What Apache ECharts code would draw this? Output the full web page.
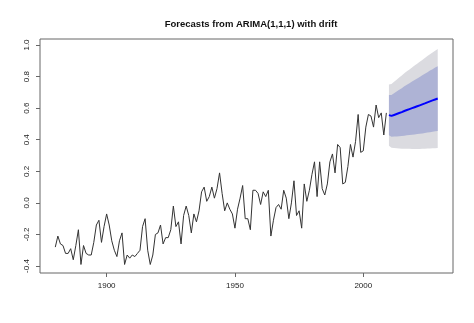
<!DOCTYPE html>
<html>
<head>
<meta charset="utf-8">
<script src="https://cdn.jsdelivr.net/npm/echarts@6/dist/echarts.min.js"></script>
<style>
html,body{margin:0;padding:0;background:#fff;}
#chart{width:474px;height:323px;}
</style>
</head>
<body>
<div id="chart"></div>
<script>
// Observed series (annual, 1880-2009)
var startYear = 1880;
var observed = [
-0.28,-0.21,-0.26,-0.27,-0.32,-0.32,-0.29,-0.36,-0.27,-0.17,
-0.39,-0.27,-0.32,-0.33,-0.33,-0.25,-0.14,-0.11,-0.25,-0.15,
-0.07,-0.14,-0.24,-0.30,-0.34,-0.24,-0.19,-0.39,-0.33,-0.35,
-0.33,-0.34,-0.32,-0.30,-0.15,-0.10,-0.30,-0.39,-0.33,-0.20,
-0.19,-0.14,-0.26,-0.22,-0.22,-0.17,-0.02,-0.15,-0.12,-0.26,
-0.08,-0.02,-0.08,-0.19,-0.07,-0.12,-0.05,0.07,0.10,0.01,
0.04,0.10,0.03,0.09,0.19,0.06,-0.05,0.00,-0.04,-0.07,
-0.16,-0.04,0.03,0.11,-0.10,-0.10,-0.17,0.08,0.08,0.06,
-0.01,0.07,0.04,0.08,-0.21,-0.11,-0.03,-0.01,-0.04,0.08,
0.03,-0.10,0.00,0.14,-0.08,-0.05,-0.16,0.12,0.01,0.08,
0.18,0.26,0.04,0.26,0.09,0.05,0.12,0.26,0.31,0.19,
0.37,0.35,0.12,0.13,0.23,0.37,0.29,0.39,0.56,0.32,
0.33,0.48,0.56,0.55,0.48,0.62,0.54,0.57,0.43,0.57
];
// Forecast 2010-2029
var fcYears = [2010,2011,2012,2013,2014,2015,2016,2017,2018,2019,2020,2021,2022,2023,2024,2025,2026,2027,2028,2029];
var fcMean = [0.556,0.551,0.557,0.563,0.569,0.575,0.582,0.588,0.594,0.600,0.606,0.612,0.618,0.624,0.630,0.637,0.643,0.649,0.655,0.661];
var lo80 = [0.429,0.419,0.420,0.421,0.422,0.424,0.426,0.428,0.430,0.431,0.433,0.436,0.438,0.440,0.442,0.446,0.448,0.451,0.453,0.456];
var hi80 = [0.683,0.683,0.694,0.705,0.716,0.726,0.738,0.748,0.758,0.769,0.779,0.788,0.798,0.808,0.818,0.828,0.838,0.847,0.857,0.866];
var lo95 = [0.362,0.349,0.347,0.346,0.344,0.343,0.343,0.343,0.343,0.342,0.342,0.342,0.342,0.343,0.343,0.344,0.345,0.346,0.346,0.347];
var hi95 = [0.750,0.753,0.767,0.780,0.794,0.807,0.821,0.833,0.845,0.858,0.870,0.882,0.894,0.905,0.917,0.930,0.941,0.952,0.964,0.975];
var xTicks = [1900,1950,2000];
var yTicks = [-0.4,-0.2,0.0,0.2,0.4,0.6,0.8,1.0];
var titleText = 'Forecasts from ARIMA(1,1,1) with drift';

var obsData = observed.map(function(v,i){return [startYear+i, v];});
var fcData = fcYears.map(function(y,i){return [y, fcMean[i]];});

function bandSeries(lo, hi, color, z){
  return {
    type:'custom', z:z, silent:true,
    data: fcYears.map(function(y,i){return [y, lo[i], hi[i]];}),
    encode:{x:0,y:[1,2]},
    renderItem:function(params, api){
      if(params.dataIndex !== 0) return;
      var pts = [];
      for(var i=0;i<fcYears.length;i++) pts.push(api.coord([fcYears[i], hi[i]]));
      for(var j=fcYears.length-1;j>=0;j--) pts.push(api.coord([fcYears[j], lo[j]]));
      return {type:'polygon', shape:{points:pts}, style:{fill:color, stroke:null}};
    }
  };
}

var font = 'Liberation Sans, Arial, sans-serif';
var chart = echarts.init(document.getElementById('chart'), null, {renderer:'canvas'});
chart.setOption({
  animation:false,
  backgroundColor:'#fff',
  title:{text:titleText, left:246, textAlign:'center', top:14,
    textStyle:{fontFamily:font, fontSize:9.5, fontWeight:'bold', color:'#111'}},
  grid:{left:40, right:21, top:39, bottom:50, show:true, borderColor:'#666', borderWidth:1, backgroundColor:'transparent'},
  xAxis:{type:'value', min:1874.04, max:2034.96, splitLine:{show:false},
    axisLine:{show:false, onZero:false},
    axisTick:{show:true, customValues:xTicks, length:4, lineStyle:{color:'#666'}},
    axisLabel:{customValues:xTicks, margin:9, fontSize:8, color:'#222', fontFamily:font,
      formatter:function(v){return String(Math.round(v));}}},
  yAxis:{type:'value', min:-0.444, max:1.038, splitLine:{show:false},
    axisLine:{show:false, onZero:false},
    axisTick:{show:true, customValues:yTicks, length:4, lineStyle:{color:'#666'}},
    axisLabel:{customValues:yTicks, rotate:90, margin:9, fontSize:8, color:'#222', fontFamily:font,
      formatter:function(v){return v.toFixed(1);}}},
  series:[
    bandSeries(lo95, hi95, '#DBDBE0', 1),
    bandSeries(lo80, hi80, '#AEB3D5', 2),
    {type:'line', data:obsData, symbol:'none', z:3, lineStyle:{color:'#333', width:1}},
    {type:'line', data:fcData, symbol:'none', z:4, lineStyle:{color:'#0000FF', width:2}}
  ]
});
</script>
</body>
</html>
